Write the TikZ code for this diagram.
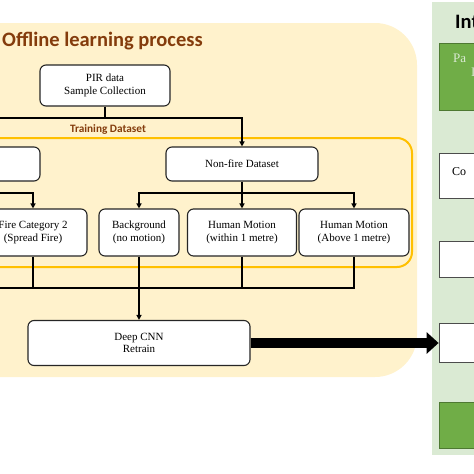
\documentclass[tikz,border=0pt]{standalone}
\usepackage{fontspec}
\setmainfont{Liberation Serif}
\newfontfamily\calibri{Carlito}
\usetikzlibrary{arrows.meta}
\definecolor{offlinebg}{HTML}{FFF2CC}
\definecolor{onlinebg}{HTML}{DAEAD3}
\definecolor{leafgreen}{HTML}{70AD47}
\definecolor{titlebrown}{HTML}{843C0C}
\definecolor{setgold}{HTML}{FFC000}
\begin{document}
\begin{tikzpicture}[x=1pt,y=-1pt,
  box/.style={draw=black!85, line width=1.1pt, rounded corners=6pt, fill=white, align=center, inner sep=0pt, font=\fontsize{11}{12.5}\selectfont},
  gbox/.style={draw=black!70, line width=0.8pt, fill=white, minimum width=122pt},
  link/.style={line width=1.3pt},
  arr/.style={link, -{Triangle[length=5pt,width=5pt]}},
  bigarrow/.style={line width=10pt, -{Triangle[length=12pt,width=21pt]}}]
\useasboundingbox (0,0) rectangle (474,474);
\clip (0,0) rectangle (474,474);
% panels
\fill[offlinebg, rounded corners=42pt] (-60,23) rectangle (417,377);
\fill[onlinebg] (432,2) rectangle (520,455);
\draw[setgold, line width=2pt, rounded corners=15pt] (-60,138) rectangle (412,267);
\node[font=\calibri\bfseries\fontsize{20.5}{24}\selectfont, text=titlebrown, anchor=west, inner sep=0pt] (offtitle) at (2,41) {Offline learning process};
\node[font=\calibri\bfseries\fontsize{11.3}{13}\selectfont, text=titlebrown, inner sep=0pt] (trainlabel) at (108,129) {Training Dataset};
% offline boxes
\node[box, minimum width=130pt, minimum height=41pt] (pir) at (105,85.5) {PIR data\\Sample Collection};
\node[box, minimum width=152pt, minimum height=34pt] (fireset) at (-36,164) {};
\node[box, minimum width=152pt, minimum height=34pt] (nonfire) at (242,164) {Non-fire Dataset};
\node[box, minimum width=108pt, minimum height=47pt] (firecat) at (33,232.5) {Fire Category 2\\(Spread Fire)};
\node[box, minimum width=80pt, minimum height=47pt] (backgr) at (139,232.5) {Background\\(no motion)};
\node[box, minimum width=109pt, minimum height=47pt] (humannear) at (242,232.5) {Human Motion\\(within 1 metre)};
\node[box, minimum width=110pt, minimum height=47pt] (humanfar) at (354,232.5) {Human Motion\\(Above 1 metre)};
\node[box, minimum width=222pt, minimum height=45pt] (cnn) at (139,343) {Deep CNN\\Retrain};
% right panel
\node[font=\calibri\bfseries\fontsize{20.5}{24}\selectfont, anchor=west, inner sep=0pt] (ontitle) at (455,22) {Int};
\node[gbox, fill=leafgreen, draw=leafgreen!70!black, minimum height=67pt] (greentop) at (500,76.5) {};
\node[gbox, minimum height=45pt] (whitebox1) at (500,175.5) {};
\node[gbox, minimum height=36pt] (whitebox2) at (500,259) {};
\node[gbox, minimum height=39pt] (whitebox3) at (500,343) {};
\node[gbox, fill=leafgreen, draw=leafgreen!70!black, minimum height=46pt] (greenbottom) at (500,425) {};
\node[font=\fontsize{13}{15}\selectfont, text=onlinebg, anchor=west, inner sep=0pt] (greentext1) at (453,58) {Pa};
\node[font=\fontsize{13}{15}\selectfont, text=onlinebg, anchor=west, inner sep=0pt] (greentext2) at (471,72) {I};
\node[font=\fontsize{12}{14}\selectfont, anchor=west, inner sep=0pt] (whitetext1) at (452,172) {Co};
% connectors
\coordinate (pirsplit) at (pir.south |- 0,118);
\draw[link] (pir) -- (pirsplit);
\draw[arr] (pirsplit) -| (nonfire);
\draw[arr] (pirsplit) -| (fireset);
\coordinate (firesplit) at (fireset.south |- 0,193);
\draw[link] (fireset) -- (firesplit);
\draw[arr] (firesplit) -| (firecat);
\coordinate (nonfiresplit) at (nonfire.south |- 0,193);
\draw[link] (nonfire) -- (nonfiresplit);
\foreach \leaf in {backgr,humannear,humanfar}
  \draw[arr] (nonfiresplit) -| (\leaf);
\coordinate (merge) at (cnn.north |- 0,288);
\coordinate (mergeleft) at (-20,288);
\foreach \leaf in {firecat,backgr,humannear,humanfar}
  \draw[link] (\leaf) |- (merge);
\draw[link] (mergeleft) -- (merge);
\draw[arr] (merge) -- (cnn);
\draw[bigarrow] (cnn) -- (whitebox3);
\end{tikzpicture}
\end{document}
